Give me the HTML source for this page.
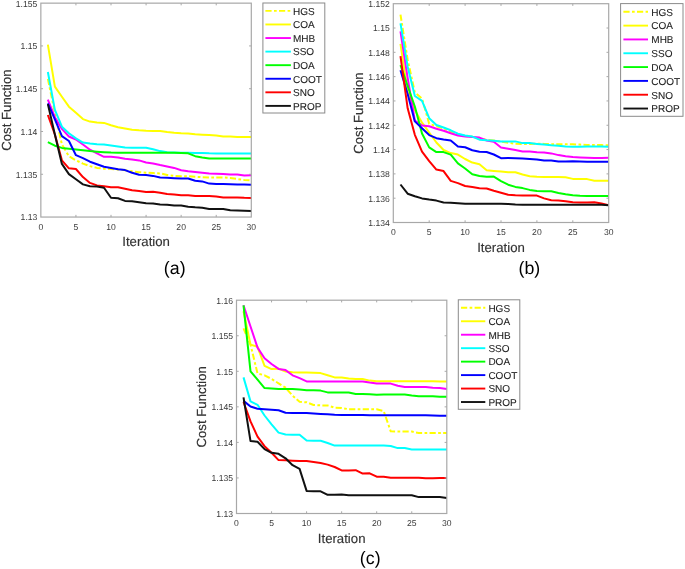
<!DOCTYPE html>
<html lang="en">
<head>
<meta charset="utf-8">
<title>Cost function convergence</title>
<style>
html,body{margin:0;padding:0;background:#fff;}
body{width:685px;height:569px;overflow:hidden;}
svg{display:block;filter:blur(0.35px);font-family:"Liberation Sans",Arial,Helvetica,sans-serif;}
</style>
</head>
<body>
<svg text-rendering="geometricPrecision" width="685" height="569" viewBox="0 0 685 569">
<rect width="685" height="569" fill="#fff"/>
<g>
<g fill="none" stroke-width="2.0" stroke-linejoin="round" stroke-linecap="butt">
<polyline points="47.87,78.9 54.88,112.8 61.9,144.5 68.91,156.2 75.93,160.3 82.94,163.6 89.96,166.1 96.97,167.9 103.99,168.7 111,169 118.02,169.5 125.03,170.2 132.05,171.3 139.06,172.2 146.08,172.7 153.09,173.1 160.11,173.4 167.12,174.9 174.14,176 181.15,176.3 188.16,176.3 195.18,176.8 202.2,177.2 209.21,177.5 216.22,177.5 223.24,177.5 230.26,178 237.27,179 244.28,180 251.3,180.4" stroke="#ffff00" stroke-dasharray="6.2 2.4 2.7 2.3"/>
<polyline points="47.87,44.6 54.88,86.6 61.9,96.8 68.91,106.7 75.93,112.8 82.94,119.1 89.96,121.6 96.97,122.6 103.99,122.9 111,125.3 118.02,127.2 125.03,128.5 132.05,129.7 139.06,130.3 146.08,130.7 153.09,130.9 160.11,131.1 167.12,132.1 174.14,132.8 181.15,133.3 188.16,133.6 195.18,134.3 202.2,134.7 209.21,135 216.22,135.5 223.24,136.5 230.26,136.6 237.27,136.9 244.28,136.9 251.3,136.9" stroke="#ffff00"/>
<polyline points="47.87,99.7 54.88,117.2 61.9,128.9 68.91,136.5 75.93,139.5 82.94,144.5 89.96,149.7 96.97,153.4 103.99,156.8 111,156.8 118.02,157.5 125.03,158.8 132.05,159.6 139.06,160.4 146.08,162.5 153.09,163.6 160.11,165.1 167.12,166.4 174.14,167.9 181.15,170.2 188.16,171.2 195.18,172 202.2,172.7 209.21,173.4 216.22,173.8 223.24,174.1 230.26,174.5 237.27,174.6 244.28,175.6 251.3,175.3" stroke="#ff00ff"/>
<polyline points="47.87,72 54.88,109.9 61.9,126.7 68.91,133.3 75.93,138.4 82.94,142.6 89.96,143.6 96.97,144.2 103.99,144.5 111,145.4 118.02,146.4 125.03,147.6 132.05,147.8 139.06,147.7 146.08,147.7 153.09,149.3 160.11,151.1 167.12,152.2 174.14,152.5 181.15,152.7 188.16,152.7 195.18,153 202.2,153 209.21,153.3 216.22,153.4 223.24,153.4 230.26,153.4 237.27,153.4 244.28,153.4 251.3,153.4" stroke="#00ffff"/>
<polyline points="47.87,142.2 54.88,145.7 61.9,147.9 68.91,148.7 75.93,149.5 82.94,150.2 89.96,151.1 96.97,151.7 103.99,152.2 111,152.6 118.02,152.7 125.03,152.7 132.05,152.8 139.06,152.8 146.08,152.8 153.09,152.8 160.11,152.8 167.12,152.8 174.14,152.8 181.15,153 188.16,153.3 195.18,156.2 202.2,157.4 209.21,158.4 216.22,158.4 223.24,158.4 230.26,158.4 237.27,158.5 244.28,158.5 251.3,158.5" stroke="#00ff00"/>
<polyline points="47.87,103.4 54.88,119.4 61.9,136.2 68.91,141 75.93,155.2 82.94,158.1 89.96,161.7 96.97,164.2 103.99,166.8 111,167.9 118.02,169.3 125.03,170.1 132.05,172.7 139.06,174.7 146.08,174.9 153.09,175.9 160.11,177.5 167.12,177.8 174.14,178.2 181.15,178.5 188.16,178.5 195.18,180.7 202.2,181.4 209.21,183.6 216.22,183.9 223.24,184 230.26,184.2 237.27,184.5 244.28,184.5 251.3,184.7" stroke="#0000ff"/>
<polyline points="47.87,115 54.88,134.5 61.9,160.3 68.91,168.3 75.93,169 82.94,177.1 89.96,182.9 96.97,185.4 103.99,186.3 111,187.3 118.02,187.3 125.03,188.7 132.05,190.3 139.06,191 146.08,192 153.09,191.7 160.11,192.8 167.12,194.1 174.14,194.6 181.15,195.3 188.16,195.3 195.18,196 202.2,196 209.21,196 216.22,196.6 223.24,197.5 230.26,197.5 237.27,197.5 244.28,197.8 251.3,197.9" stroke="#ff0000"/>
<polyline points="47.87,104.1 54.88,134.5 61.9,163.9 68.91,174.1 75.93,179.3 82.94,184.4 89.96,186.3 96.97,186.6 103.99,187.7 111,197.8 118.02,198.2 125.03,200.9 132.05,201.3 139.06,202.2 146.08,203.3 153.09,203.6 160.11,204.4 167.12,204.8 174.14,205.5 181.15,205.5 188.16,206.7 195.18,207.3 202.2,207.7 209.21,208.9 216.22,208.9 223.24,209 230.26,210.3 237.27,210.6 244.28,210.8 251.3,210.9" stroke="#111111"/>
</g>
<rect x="40.85" y="3.15" width="210.45" height="213.9" fill="none" stroke="#a8a8a8" stroke-width="1.2"/>
<path d="M75.93 217.05v-2.2M75.93 3.15v2.2M111 217.05v-2.2M111 3.15v2.2M146.08 217.05v-2.2M146.08 3.15v2.2M181.15 217.05v-2.2M181.15 3.15v2.2M216.22 217.05v-2.2M216.22 3.15v2.2M40.85 45.93h2.2M251.3 45.93h-2.2M40.85 88.71h2.2M251.3 88.71h-2.2M40.85 131.49h2.2M251.3 131.49h-2.2M40.85 174.27h2.2M251.3 174.27h-2.2" stroke="#a8a8a8" stroke-width="1" fill="none"/>
<g font-size="8.6" fill="#3a3a3a">
<text x="40.85" y="229.65" text-anchor="middle">0</text>
<text x="75.93" y="229.65" text-anchor="middle">5</text>
<text x="111" y="229.65" text-anchor="middle">10</text>
<text x="146.08" y="229.65" text-anchor="middle">15</text>
<text x="181.15" y="229.65" text-anchor="middle">20</text>
<text x="216.22" y="229.65" text-anchor="middle">25</text>
<text x="251.3" y="229.65" text-anchor="middle">30</text>
<text x="37.35" y="6.5" text-anchor="end">1.155</text>
<text x="37.35" y="49.28" text-anchor="end">1.15</text>
<text x="37.35" y="92.06" text-anchor="end">1.145</text>
<text x="37.35" y="134.84" text-anchor="end">1.14</text>
<text x="37.35" y="177.62" text-anchor="end">1.135</text>
<text x="37.35" y="220.4" text-anchor="end">1.13</text>
</g>
<text x="146.08" y="246.05" text-anchor="middle" font-size="13.2" fill="#333333" stroke="#333333" stroke-width="0.15">Iteration</text>
<text transform="translate(10.5 110.1) rotate(-90)" text-anchor="middle" font-size="13.2" fill="#333333" stroke="#333333" stroke-width="0.15">Cost Function</text>
<rect x="262.9" y="3" width="61.9" height="110" fill="#fff" stroke="#8a8a8a" stroke-width="1"/>
<path d="M265.4 10.9H290.9" stroke="#ffff00" stroke-width="1.9" fill="none" stroke-dasharray="6.2 2.4 2.7 2.3"/>
<text x="293" y="14.7" font-size="10" fill="#1c1c1c" stroke="#1c1c1c" stroke-width="0.1">HGS</text>
<path d="M265.4 24.47H290.9" stroke="#ffff00" stroke-width="1.9" fill="none"/>
<text x="293" y="28.27" font-size="10" fill="#1c1c1c" stroke="#1c1c1c" stroke-width="0.1">COA</text>
<path d="M265.4 38.04H290.9" stroke="#ff00ff" stroke-width="1.9" fill="none"/>
<text x="293" y="41.84" font-size="10" fill="#1c1c1c" stroke="#1c1c1c" stroke-width="0.1">MHB</text>
<path d="M265.4 51.61H290.9" stroke="#00ffff" stroke-width="1.9" fill="none"/>
<text x="293" y="55.41" font-size="10" fill="#1c1c1c" stroke="#1c1c1c" stroke-width="0.1">SSO</text>
<path d="M265.4 65.18H290.9" stroke="#00ff00" stroke-width="1.9" fill="none"/>
<text x="293" y="68.98" font-size="10" fill="#1c1c1c" stroke="#1c1c1c" stroke-width="0.1">DOA</text>
<path d="M265.4 78.75H290.9" stroke="#0000ff" stroke-width="1.9" fill="none"/>
<text x="293" y="82.55" font-size="10" fill="#1c1c1c" stroke="#1c1c1c" stroke-width="0.1">COOT</text>
<path d="M265.4 92.32H290.9" stroke="#ff0000" stroke-width="1.9" fill="none"/>
<text x="293" y="96.12" font-size="10" fill="#1c1c1c" stroke="#1c1c1c" stroke-width="0.1">SNO</text>
<path d="M265.4 105.89H290.9" stroke="#111111" stroke-width="1.9" fill="none"/>
<text x="293" y="109.69" font-size="10" fill="#1c1c1c" stroke="#1c1c1c" stroke-width="0.1">PROP</text>
<text x="174.7" y="274.2" text-anchor="middle" font-size="17.8" fill="#000">(a)</text>
</g>
<g>
<g fill="none" stroke-width="2.0" stroke-linejoin="round" stroke-linecap="butt">
<polyline points="400.48,14.6 407.66,59.5 414.84,92.5 422.02,98.5 429.2,123.8 436.38,126.2 443.56,128.5 450.74,131.8 457.92,134.7 465.1,135.9 472.28,136.8 479.46,138.6 486.64,139.8 493.82,140.4 501,141.7 508.18,142.8 515.36,143.7 522.54,144.1 529.72,143.9 536.9,143.7 544.08,143.9 551.26,144.2 558.44,144.2 565.62,144.2 572.8,144.3 579.98,144.6 587.16,144.9 594.34,145 601.52,145.1 608.7,145.3" stroke="#ffff00" stroke-dasharray="6.2 2.4 2.7 2.3"/>
<polyline points="400.48,43.8 407.66,92 414.84,110 422.02,122.7 429.2,132.5 436.38,142.5 443.56,150 450.74,153.1 457.92,154.6 465.1,159 472.28,162.6 479.46,164.2 486.64,170.3 493.82,170.9 501,171.6 508.18,172.3 515.36,172.3 522.54,174.5 529.72,176.2 536.9,176.7 544.08,177 551.26,177 558.44,177 565.62,177.2 572.8,178.9 579.98,178.9 587.16,179.1 594.34,180.8 601.52,180.8 608.7,180.8" stroke="#ffff00"/>
<polyline points="400.48,31.4 407.66,78 414.84,120.5 422.02,125.4 429.2,126.3 436.38,128.8 443.56,130.8 450.74,133.3 457.92,135.5 465.1,136.6 472.28,137.1 479.46,137.6 486.64,140.5 493.82,141.8 501,147.5 508.18,148.7 515.36,150.1 522.54,151.6 529.72,151.6 536.9,152.3 544.08,152.6 551.26,153.4 558.44,155.1 565.62,156.3 572.8,157 579.98,157.4 587.16,157.7 594.34,158 601.52,158 608.7,157.7" stroke="#ff00ff"/>
<polyline points="400.48,23.4 407.66,66.7 414.84,96 422.02,100.9 429.2,118.2 436.38,125 443.56,127.5 450.74,130.3 457.92,133.7 465.1,135.5 472.28,136.6 479.46,139.7 486.64,140.3 493.82,140.7 501,141.4 508.18,141.4 515.36,141.4 522.54,143.1 529.72,143.1 536.9,143.9 544.08,144.6 551.26,145.3 558.44,145.8 565.62,146.4 572.8,146.8 579.98,146.8 587.16,146.5 594.34,146.5 601.52,146.5 608.7,146.8" stroke="#00ffff"/>
<polyline points="400.48,65.2 407.66,86 414.84,106.5 422.02,133.5 429.2,147.4 436.38,152.1 443.56,152.1 450.74,154.6 457.92,163.4 465.1,168.5 472.28,174.3 479.46,175.9 486.64,176.8 493.82,176.6 501,181.1 508.18,184.7 515.36,186.9 522.54,188.1 529.72,189.9 536.9,191.1 544.08,191.2 551.26,191.3 558.44,193 565.62,194.2 572.8,195.2 579.98,195.7 587.16,196 594.34,196.1 601.52,196.1 608.7,196.1" stroke="#00ff00"/>
<polyline points="400.48,70.2 407.66,94 414.84,121.4 422.02,128.3 429.2,135.1 436.38,138.2 443.56,139.6 450.74,140.6 457.92,146.6 465.1,147.3 472.28,150.2 479.46,151.8 486.64,152 493.82,154.5 501,158.2 508.18,158 515.36,158.2 522.54,158.5 529.72,158.9 536.9,159.4 544.08,160.4 551.26,160.4 558.44,161.4 565.62,161.4 572.8,161.2 579.98,161.4 587.16,161.8 594.34,161.8 601.52,161.8 608.7,161.8" stroke="#0000ff"/>
<polyline points="400.48,56.2 407.66,108.3 414.84,134.8 422.02,151.7 429.2,161.2 436.38,169.6 443.56,171.1 450.74,180.9 457.92,183.1 465.1,186 472.28,187 479.46,188.2 486.64,188.5 493.82,190.8 501,192.8 508.18,194.7 515.36,195.3 522.54,195.4 529.72,195.5 536.9,195.6 544.08,198.4 551.26,200.3 558.44,200.4 565.62,201.3 572.8,202.3 579.98,202.6 587.16,202.6 594.34,202.3 601.52,203.4 608.7,205.2" stroke="#ff0000"/>
<polyline points="400.48,184.5 407.66,193.7 414.84,196.2 422.02,198.4 429.2,199.6 436.38,200.6 443.56,202.5 450.74,202.8 457.92,203.2 465.1,203.8 472.28,203.8 479.46,203.8 486.64,203.8 493.82,203.8 501,203.8 508.18,203.9 515.36,204.6 522.54,204.7 529.72,204.7 536.9,204.7 544.08,204.7 551.26,204.7 558.44,204.7 565.62,204.7 572.8,204.7 579.98,204.7 587.16,204.7 594.34,204.7 601.52,204.8 608.7,205.2" stroke="#111111"/>
</g>
<rect x="393.3" y="3.7" width="215.4" height="218.8" fill="none" stroke="#a8a8a8" stroke-width="1.2"/>
<path d="M429.2 222.5v-2.2M429.2 3.7v2.2M465.1 222.5v-2.2M465.1 3.7v2.2M501 222.5v-2.2M501 3.7v2.2M536.9 222.5v-2.2M536.9 3.7v2.2M572.8 222.5v-2.2M572.8 3.7v2.2M393.3 28.01h2.2M608.7 28.01h-2.2M393.3 52.32h2.2M608.7 52.32h-2.2M393.3 76.63h2.2M608.7 76.63h-2.2M393.3 100.94h2.2M608.7 100.94h-2.2M393.3 125.26h2.2M608.7 125.26h-2.2M393.3 149.57h2.2M608.7 149.57h-2.2M393.3 173.88h2.2M608.7 173.88h-2.2M393.3 198.19h2.2M608.7 198.19h-2.2" stroke="#a8a8a8" stroke-width="1" fill="none"/>
<g font-size="8.6" fill="#3a3a3a">
<text x="393.3" y="235.1" text-anchor="middle">0</text>
<text x="429.2" y="235.1" text-anchor="middle">5</text>
<text x="465.1" y="235.1" text-anchor="middle">10</text>
<text x="501" y="235.1" text-anchor="middle">15</text>
<text x="536.9" y="235.1" text-anchor="middle">20</text>
<text x="572.8" y="235.1" text-anchor="middle">25</text>
<text x="608.7" y="235.1" text-anchor="middle">30</text>
<text x="389.8" y="7.05" text-anchor="end">1.152</text>
<text x="389.8" y="31.36" text-anchor="end">1.15</text>
<text x="389.8" y="55.67" text-anchor="end">1.148</text>
<text x="389.8" y="79.98" text-anchor="end">1.146</text>
<text x="389.8" y="104.29" text-anchor="end">1.144</text>
<text x="389.8" y="128.61" text-anchor="end">1.142</text>
<text x="389.8" y="152.92" text-anchor="end">1.14</text>
<text x="389.8" y="177.23" text-anchor="end">1.138</text>
<text x="389.8" y="201.54" text-anchor="end">1.136</text>
<text x="389.8" y="225.85" text-anchor="end">1.134</text>
</g>
<text x="501" y="251.5" text-anchor="middle" font-size="13.2" fill="#333333" stroke="#333333" stroke-width="0.15">Iteration</text>
<text transform="translate(362.6 113.1) rotate(-90)" text-anchor="middle" font-size="13.2" fill="#333333" stroke="#333333" stroke-width="0.15">Cost Function</text>
<rect x="620.6" y="3.6" width="62.4" height="112.7" fill="#fff" stroke="#8a8a8a" stroke-width="1"/>
<path d="M623.4 11.8H648" stroke="#ffff00" stroke-width="1.9" fill="none" stroke-dasharray="6.2 2.4 2.7 2.3"/>
<text x="651.3" y="15.6" font-size="10" fill="#1c1c1c" stroke="#1c1c1c" stroke-width="0.1">HGS</text>
<path d="M623.4 25.62H648" stroke="#ffff00" stroke-width="1.9" fill="none"/>
<text x="651.3" y="29.42" font-size="10" fill="#1c1c1c" stroke="#1c1c1c" stroke-width="0.1">COA</text>
<path d="M623.4 39.44H648" stroke="#ff00ff" stroke-width="1.9" fill="none"/>
<text x="651.3" y="43.24" font-size="10" fill="#1c1c1c" stroke="#1c1c1c" stroke-width="0.1">MHB</text>
<path d="M623.4 53.26H648" stroke="#00ffff" stroke-width="1.9" fill="none"/>
<text x="651.3" y="57.06" font-size="10" fill="#1c1c1c" stroke="#1c1c1c" stroke-width="0.1">SSO</text>
<path d="M623.4 67.08H648" stroke="#00ff00" stroke-width="1.9" fill="none"/>
<text x="651.3" y="70.88" font-size="10" fill="#1c1c1c" stroke="#1c1c1c" stroke-width="0.1">DOA</text>
<path d="M623.4 80.9H648" stroke="#0000ff" stroke-width="1.9" fill="none"/>
<text x="651.3" y="84.7" font-size="10" fill="#1c1c1c" stroke="#1c1c1c" stroke-width="0.1">COOT</text>
<path d="M623.4 94.72H648" stroke="#ff0000" stroke-width="1.9" fill="none"/>
<text x="651.3" y="98.52" font-size="10" fill="#1c1c1c" stroke="#1c1c1c" stroke-width="0.1">SNO</text>
<path d="M623.4 108.54H648" stroke="#111111" stroke-width="1.9" fill="none"/>
<text x="651.3" y="112.34" font-size="10" fill="#1c1c1c" stroke="#1c1c1c" stroke-width="0.1">PROP</text>
<text x="529.4" y="274.3" text-anchor="middle" font-size="17.8" fill="#000">(b)</text>
</g>
<g>
<g fill="none" stroke-width="2.0" stroke-linejoin="round" stroke-linecap="butt">
<polyline points="243.51,328.3 250.52,344.6 257.53,373.5 264.54,375.3 271.55,378.9 278.56,383.3 285.57,387.7 292.58,395.7 299.59,401.8 306.6,402.3 313.61,405 320.62,405.4 327.63,405.4 334.64,407.7 341.65,408 348.66,409.2 355.67,409.2 362.68,409.2 369.69,409.3 376.7,409.3 383.71,411.1 390.72,431.3 397.73,431.5 404.74,431.5 411.75,431.5 418.76,433 425.77,433 432.78,433 439.79,433 446.8,433" stroke="#ffff00" stroke-dasharray="6.2 2.4 2.7 2.3"/>
<polyline points="243.51,311.3 250.52,344.6 257.53,346.8 264.54,365.8 271.55,369.1 278.56,368.7 285.57,371.6 292.58,372.3 299.59,372.6 306.6,372.6 313.61,372.7 320.62,373.1 327.63,375.2 334.64,377.4 341.65,377.5 348.66,378.5 355.67,379 362.68,379 369.69,380.6 376.7,381.2 383.71,381.2 390.72,381.2 397.73,381.2 404.74,381.2 411.75,381.2 418.76,381.2 425.77,381.2 432.78,381.2 439.79,381.5 446.8,381.5" stroke="#ffff00"/>
<polyline points="243.51,305.3 250.52,326.5 257.53,347.6 264.54,358.3 271.55,364 278.56,368.9 285.57,370.1 292.58,375.3 299.59,378.2 306.6,381.4 313.61,381.4 320.62,381.4 327.63,381.5 334.64,381.6 341.65,381.6 348.66,381.6 355.67,381.6 362.68,381.6 369.69,382.6 376.7,383.4 383.71,383.4 390.72,383.6 397.73,385.7 404.74,387 411.75,387 418.76,386.9 425.77,386.9 432.78,387.7 439.79,388 446.8,388.9" stroke="#ff00ff"/>
<polyline points="243.51,377.4 250.52,401.4 257.53,404.8 264.54,415.5 271.55,424.3 278.56,432.6 285.57,434.5 292.58,434.8 299.59,434.8 306.6,440.6 313.61,440.7 320.62,440.8 327.63,443 334.64,445.6 341.65,445.6 348.66,445.6 355.67,445.6 362.68,445.6 369.69,445.6 376.7,445.6 383.71,445.6 390.72,446 397.73,448.1 404.74,448.1 411.75,449.5 418.76,449.5 425.77,449.5 432.78,449.5 439.79,449.5 446.8,449.5" stroke="#00ffff"/>
<polyline points="243.51,305.3 250.52,371.3 257.53,379.6 264.54,388.1 271.55,388.4 278.56,389.1 285.57,389.1 292.58,389.1 299.59,389.6 306.6,390.3 313.61,390.3 320.62,390.6 327.63,392.4 334.64,392.4 341.65,392.4 348.66,392.4 355.67,393.9 362.68,393.9 369.69,394.3 376.7,394.7 383.71,394.6 390.72,394.6 397.73,394.6 404.74,394.6 411.75,395.5 418.76,396.2 425.77,396.2 432.78,396.2 439.79,396.8 446.8,396.8" stroke="#00ff00"/>
<polyline points="243.51,400.9 250.52,406.5 257.53,408.7 264.54,409.3 271.55,409.8 278.56,410.2 285.57,412.7 292.58,412.9 299.59,412.9 306.6,412.9 313.61,413.4 320.62,413.9 327.63,414.3 334.64,414.8 341.65,415 348.66,415 355.67,415 362.68,415 369.69,415.2 376.7,415.2 383.71,415.2 390.72,415.2 397.73,415.2 404.74,415.2 411.75,415.2 418.76,415.2 425.77,415.2 432.78,415.5 439.79,415.8 446.8,415.8" stroke="#0000ff"/>
<polyline points="243.51,402 250.52,421.4 257.53,436.7 264.54,446.2 271.55,452.8 278.56,460.1 285.57,460.3 292.58,460.7 299.59,461.1 306.6,461 313.61,462 320.62,463 327.63,464.6 334.64,467 341.65,470.4 348.66,470.4 355.67,470.2 362.68,473.6 369.69,473.3 376.7,476.7 383.71,476.7 390.72,477.7 397.73,477.7 404.74,477.7 411.75,477.7 418.76,477.7 425.77,478.2 432.78,478.2 439.79,478 446.8,478" stroke="#ff0000"/>
<polyline points="243.51,397.3 250.52,441.1 257.53,441.8 264.54,449.1 271.55,452.8 278.56,453.8 285.57,458.3 292.58,465.2 299.59,468.9 306.6,490.9 313.61,491.3 320.62,491.3 327.63,494.8 334.64,494.8 341.65,494.6 348.66,495.2 355.67,495.2 362.68,495.2 369.69,495.2 376.7,495.2 383.71,495.2 390.72,495.2 397.73,495.2 404.74,495.2 411.75,495.2 418.76,497.1 425.77,497.1 432.78,497 439.79,497 446.8,497.9" stroke="#111111"/>
</g>
<rect x="236.5" y="300.2" width="210.3" height="213.3" fill="none" stroke="#a8a8a8" stroke-width="1.2"/>
<path d="M271.55 513.5v-2.2M271.55 300.2v2.2M306.6 513.5v-2.2M306.6 300.2v2.2M341.65 513.5v-2.2M341.65 300.2v2.2M376.7 513.5v-2.2M376.7 300.2v2.2M411.75 513.5v-2.2M411.75 300.2v2.2M236.5 335.75h2.2M446.8 335.75h-2.2M236.5 371.3h2.2M446.8 371.3h-2.2M236.5 406.85h2.2M446.8 406.85h-2.2M236.5 442.4h2.2M446.8 442.4h-2.2M236.5 477.95h2.2M446.8 477.95h-2.2" stroke="#a8a8a8" stroke-width="1" fill="none"/>
<g font-size="8.6" fill="#3a3a3a">
<text x="236.5" y="526.1" text-anchor="middle">0</text>
<text x="271.55" y="526.1" text-anchor="middle">5</text>
<text x="306.6" y="526.1" text-anchor="middle">10</text>
<text x="341.65" y="526.1" text-anchor="middle">15</text>
<text x="376.7" y="526.1" text-anchor="middle">20</text>
<text x="411.75" y="526.1" text-anchor="middle">25</text>
<text x="446.8" y="526.1" text-anchor="middle">30</text>
<text x="233" y="303.55" text-anchor="end">1.16</text>
<text x="233" y="339.1" text-anchor="end">1.155</text>
<text x="233" y="374.65" text-anchor="end">1.15</text>
<text x="233" y="410.2" text-anchor="end">1.145</text>
<text x="233" y="445.75" text-anchor="end">1.14</text>
<text x="233" y="481.3" text-anchor="end">1.135</text>
<text x="233" y="516.85" text-anchor="end">1.13</text>
</g>
<text x="341.65" y="542.5" text-anchor="middle" font-size="13.2" fill="#333333" stroke="#333333" stroke-width="0.15">Iteration</text>
<text transform="translate(206.3 406.85) rotate(-90)" text-anchor="middle" font-size="13.2" fill="#333333" stroke="#333333" stroke-width="0.15">Cost Function</text>
<rect x="458.3" y="299.8" width="61.5" height="109.5" fill="#fff" stroke="#8a8a8a" stroke-width="1"/>
<path d="M461 307.8H485.3" stroke="#ffff00" stroke-width="1.9" fill="none" stroke-dasharray="6.2 2.4 2.7 2.3"/>
<text x="488.4" y="311.6" font-size="10" fill="#1c1c1c" stroke="#1c1c1c" stroke-width="0.1">HGS</text>
<path d="M461 321.26H485.3" stroke="#ffff00" stroke-width="1.9" fill="none"/>
<text x="488.4" y="325.06" font-size="10" fill="#1c1c1c" stroke="#1c1c1c" stroke-width="0.1">COA</text>
<path d="M461 334.72H485.3" stroke="#ff00ff" stroke-width="1.9" fill="none"/>
<text x="488.4" y="338.52" font-size="10" fill="#1c1c1c" stroke="#1c1c1c" stroke-width="0.1">MHB</text>
<path d="M461 348.18H485.3" stroke="#00ffff" stroke-width="1.9" fill="none"/>
<text x="488.4" y="351.98" font-size="10" fill="#1c1c1c" stroke="#1c1c1c" stroke-width="0.1">SSO</text>
<path d="M461 361.64H485.3" stroke="#00ff00" stroke-width="1.9" fill="none"/>
<text x="488.4" y="365.44" font-size="10" fill="#1c1c1c" stroke="#1c1c1c" stroke-width="0.1">DOA</text>
<path d="M461 375.1H485.3" stroke="#0000ff" stroke-width="1.9" fill="none"/>
<text x="488.4" y="378.9" font-size="10" fill="#1c1c1c" stroke="#1c1c1c" stroke-width="0.1">COOT</text>
<path d="M461 388.56H485.3" stroke="#ff0000" stroke-width="1.9" fill="none"/>
<text x="488.4" y="392.36" font-size="10" fill="#1c1c1c" stroke="#1c1c1c" stroke-width="0.1">SNO</text>
<path d="M461 402.02H485.3" stroke="#111111" stroke-width="1.9" fill="none"/>
<text x="488.4" y="405.82" font-size="10" fill="#1c1c1c" stroke="#1c1c1c" stroke-width="0.1">PROP</text>
<text x="370.2" y="564" text-anchor="middle" font-size="17.8" fill="#000">(c)</text>
</g>
</svg>
</body>
</html>
